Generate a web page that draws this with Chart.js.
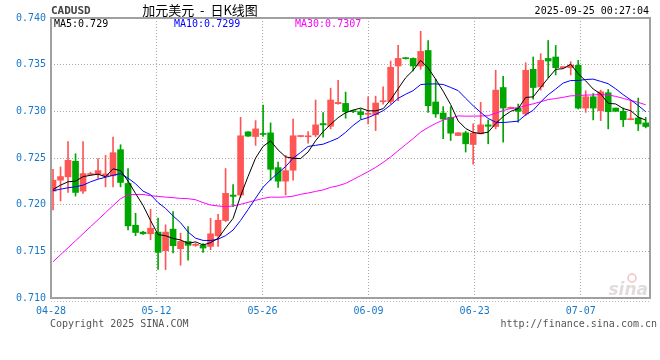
<!DOCTYPE html>
<html>
<head>
<meta charset="utf-8">
<script src="https://cdn.jsdelivr.net/npm/chart.js"></script>
<style>
  html, body { margin: 0; padding: 0; background: #fff; }
  canvas { display: block; }
</style>
</head>
<body>
<canvas id="kChart" width="660" height="360" style="width:660px;height:360px"></canvas>
<script>
// 加元美元 日K线 CADUSD
const openP = [0.72145, 0.72262, 0.72298, 0.72465, 0.72145, 0.72323, 0.72326, 0.72309, 0.72309, 0.72589,
  0.72227, 0.71780, 0.71706, 0.71688, 0.71706, 0.71507, 0.71738, 0.71528, 0.71606, 0.71564,
  0.71564, 0.71553, 0.71667, 0.71830, 0.72103, 0.72103, 0.72780, 0.72730, 0.72762, 0.72769,
  0.72397, 0.72252, 0.72369, 0.72730, 0.72727, 0.72748, 0.72869, 0.72840, 0.73082, 0.73085,
  0.73004, 0.72996, 0.72968, 0.72965, 0.73103, 0.73106, 0.73486, 0.73574, 0.73567, 0.73486,
  0.73652, 0.73100, 0.72982, 0.72936, 0.72741, 0.72770, 0.72645, 0.72759, 0.72855, 0.72837,
  0.73255, 0.73032, 0.73035, 0.72972, 0.73450, 0.73262, 0.73567, 0.73582, 0.73468, 0.73468,
  0.73493, 0.73035, 0.73156, 0.73007, 0.73199, 0.73035, 0.73000, 0.72911, 0.72929, 0.72876];
const highP = [0.72379, 0.72404, 0.72677, 0.72546, 0.72677, 0.72348, 0.72493, 0.72528, 0.72723, 0.72642,
  0.72387, 0.71908, 0.71713, 0.71950, 0.71855, 0.71784, 0.71926, 0.71695, 0.71766, 0.71589,
  0.71582, 0.71855, 0.71897, 0.72387, 0.72216, 0.72936, 0.72784, 0.72901, 0.73067, 0.72876,
  0.72457, 0.72528, 0.72918, 0.72738, 0.72784, 0.73121, 0.72986, 0.73248, 0.73333, 0.73206,
  0.73014, 0.73025, 0.73156, 0.73163, 0.73262, 0.73539, 0.73706, 0.73578, 0.73574, 0.73858,
  0.73759, 0.73344, 0.73050, 0.73050, 0.72773, 0.72787, 0.72865, 0.73096, 0.72908, 0.73440,
  0.73376, 0.73046, 0.73078, 0.73521, 0.73582, 0.73617, 0.73759, 0.73706, 0.73479, 0.73532,
  0.73546, 0.73220, 0.73191, 0.73227, 0.73234, 0.73035, 0.73035, 0.73121, 0.73142, 0.72936];
const lowP = [0.71943, 0.72039, 0.72131, 0.72092, 0.72121, 0.72312, 0.72280, 0.72191, 0.72191, 0.72191,
  0.71730, 0.71667, 0.71681, 0.71624, 0.71305, 0.71305, 0.71482, 0.71351, 0.71404, 0.71553,
  0.71489, 0.71518, 0.71553, 0.71819, 0.71979, 0.72078, 0.72730, 0.72635, 0.72730, 0.72262,
  0.72184, 0.72103, 0.72262, 0.72727, 0.72660, 0.72730, 0.72723, 0.72812, 0.73078, 0.72926,
  0.72986, 0.72918, 0.72865, 0.72794, 0.73078, 0.73078, 0.73113, 0.73560, 0.73433, 0.73450,
  0.72989, 0.72936, 0.72706, 0.72688, 0.72738, 0.72564, 0.72433, 0.72759, 0.72652, 0.72812,
  0.72670, 0.73028, 0.72883, 0.72954, 0.73131, 0.73227, 0.73362, 0.73390, 0.73464, 0.73390,
  0.73025, 0.72989, 0.72908, 0.72901, 0.72812, 0.73000, 0.72837, 0.72908, 0.72794, 0.72823];
const closeP = [0.72262, 0.72301, 0.72475, 0.72131, 0.72333, 0.72333, 0.72365, 0.72330, 0.72557, 0.72238,
  0.71773, 0.71702, 0.71688, 0.71748, 0.71489, 0.71706, 0.71560, 0.71606, 0.71564, 0.71574,
  0.71535, 0.71688, 0.71833, 0.72121, 0.72089, 0.72738, 0.72734, 0.72812, 0.72752, 0.72379,
  0.72252, 0.72365, 0.72738, 0.72734, 0.72734, 0.72855, 0.72855, 0.73121, 0.73096, 0.72996,
  0.72996, 0.72965, 0.72979, 0.73089, 0.73110, 0.73472, 0.73567, 0.73564, 0.73486, 0.73642,
  0.73060, 0.72972, 0.72918, 0.72766, 0.72770, 0.72652, 0.72766, 0.72855, 0.72840, 0.73227,
  0.73035, 0.73043, 0.73000, 0.73440, 0.73255, 0.73546, 0.73539, 0.73468, 0.73475, 0.73496,
  0.73035, 0.73156, 0.73035, 0.73209, 0.72996, 0.73000, 0.72911, 0.72918, 0.72865, 0.72837];

const ma5 = [0.72163, 0.72209, 0.72245, 0.72252, 0.72300, 0.72315, 0.72327, 0.72298, 0.72384, 0.72365,
  0.72253, 0.72120, 0.71992, 0.71830, 0.71680, 0.71667, 0.71638, 0.71622, 0.71585, 0.71602,
  0.71568, 0.71593, 0.71639, 0.71750, 0.71853, 0.72094, 0.72303, 0.72499, 0.72625, 0.72683,
  0.72586, 0.72512, 0.72497, 0.72494, 0.72565, 0.72685, 0.72783, 0.72860, 0.72932, 0.72985,
  0.73013, 0.73035, 0.73006, 0.73005, 0.73028, 0.73123, 0.73243, 0.73360, 0.73440, 0.73546,
  0.73464, 0.73345, 0.73216, 0.73072, 0.72897, 0.72816, 0.72774, 0.72762, 0.72777, 0.72868,
  0.72945, 0.73000, 0.73029, 0.73149, 0.73155, 0.73257, 0.73356, 0.73450, 0.73457, 0.73505,
  0.73403, 0.73326, 0.73239, 0.73186, 0.73086, 0.73079, 0.73030, 0.73007, 0.72938, 0.72906];
const ma10 = [0.72149, 0.72166, 0.72181, 0.72192, 0.72209, 0.72245, 0.72273, 0.72294, 0.72315, 0.72333,
  0.72284, 0.72224, 0.72145, 0.72107, 0.72022, 0.71960, 0.71879, 0.71807, 0.71707, 0.71641,
  0.71617, 0.71616, 0.71630, 0.71668, 0.71728, 0.71831, 0.71948, 0.72069, 0.72188, 0.72268,
  0.72340, 0.72408, 0.72498, 0.72559, 0.72624, 0.72636, 0.72648, 0.72679, 0.72713, 0.72775,
  0.72849, 0.72909, 0.72933, 0.72969, 0.73006, 0.73068, 0.73139, 0.73183, 0.73222, 0.73287,
  0.73293, 0.73294, 0.73288, 0.73256, 0.73222, 0.73140, 0.73060, 0.72989, 0.72924, 0.72883,
  0.72880, 0.72887, 0.72895, 0.72963, 0.73011, 0.73101, 0.73178, 0.73239, 0.73303, 0.73330,
  0.73330, 0.73341, 0.73345, 0.73321, 0.73296, 0.73241, 0.73178, 0.73123, 0.73062, 0.72996];
const ma30 = [0.71388, 0.71463, 0.71538, 0.71613, 0.71689, 0.71764, 0.71839, 0.71914, 0.71990, 0.72064,
  0.72105, 0.72110, 0.72110, 0.72096, 0.72089, 0.72081, 0.72075, 0.72067, 0.72064, 0.72053,
  0.72022, 0.71996, 0.71986, 0.71979, 0.71986, 0.72004, 0.72025, 0.72046, 0.72067, 0.72081,
  0.72080, 0.72082, 0.72091, 0.72111, 0.72125, 0.72142, 0.72158, 0.72185, 0.72203, 0.72228,
  0.72269, 0.72311, 0.72354, 0.72399, 0.72453, 0.72511, 0.72578, 0.72644, 0.72708, 0.72777,
  0.72827, 0.72870, 0.72906, 0.72928, 0.72951, 0.72948, 0.72949, 0.72950, 0.72953, 0.72981,
  0.73008, 0.73030, 0.73039, 0.73062, 0.73080, 0.73103, 0.73126, 0.73137, 0.73150, 0.73166,
  0.73168, 0.73174, 0.73176, 0.73180, 0.73176, 0.73160, 0.73139, 0.73117, 0.73096, 0.73070];

const tickPos = [-0.27, 13.8, 27.93, 42.06, 56.2, 70.33];
const tickLabels = ['04-28', '05-12', '05-26', '06-09', '06-23', '07-07'];
const maLabels = ['MA5:0.729', 'MA10:0.7299', 'MA30:0.7307'];

const UP = '#ff5555';
const DOWN = '#00a600';
const BLUE_TXT = '#1878c8';
const MONO = '"DejaVu Sans Mono", monospace';

const candleColor = closeP.map((c, i) => (c >= openP[i] ? UP : DOWN));
const pts = arr => arr.map((v, i) => ({ x: i, y: v }));

// header, legend, frame, footer
const sinaText = {
  id: 'sinaText',
  beforeDatasetsDraw(chart) {
    const ctx = chart.ctx;
    ctx.save();
    ctx.fillStyle = 'rgba(200,190,190,0.55)';
    ctx.font = 'italic bold 17px "DejaVu Sans"';
    ctx.textAlign = 'right';
    ctx.textBaseline = 'alphabetic';
    ctx.fillText('sina', 648, 295);
    ctx.strokeStyle = 'rgba(230,140,140,0.55)';
    ctx.lineWidth = 1.5;
    ctx.beginPath();
    ctx.arc(632, 278, 4, 0, Math.PI * 2);
    ctx.stroke();
    ctx.restore();
  },
  afterDraw(chart) {
    const { ctx, chartArea: a } = chart;
    ctx.save();
    ctx.strokeStyle = '#a0a0a0';
    ctx.lineWidth = 2;
    ctx.strokeRect(a.left, a.top, a.right - a.left, a.bottom - a.top);

    ctx.strokeStyle = '#c0c0c0';
    ctx.lineWidth = 1;
    ctx.setLineDash([1, 2]);
    ctx.beginPath();
    ctx.moveTo(a.left, a.bottom + 3.5);
    ctx.lineTo(a.right, a.bottom + 3.5);
    ctx.stroke();
    ctx.setLineDash([]);

    ctx.textBaseline = 'middle';
    ctx.textAlign = 'left';
    ctx.fillStyle = '#444';
    ctx.font = 'bold 11px ' + MONO;
    ctx.fillText('CADUSD', 51, 11);

    ctx.fillStyle = '#000';
    ctx.font = '13px "Noto Sans CJK SC"';
    ctx.textAlign = 'center';
    ctx.fillText('加元美元  -  日K线图', 200, 10);

    ctx.font = '10px ' + MONO;
    ctx.textAlign = 'right';
    ctx.fillText('2025-09-25 00:27:04', 649, 11);

    ctx.textAlign = 'left';
    const maColors = ['#000000', '#0000ff', '#ff00ff'];
    const maX = [54, 174, 295];
    maLabels.forEach((t, k) => {
      ctx.fillStyle = maColors[k];
      ctx.fillText(t, maX[k], 24);
    });

    ctx.fillStyle = '#555';
    ctx.fillText('Copyright 2025 SINA.COM', 50, 324);
    ctx.textAlign = 'right';
    ctx.fillText('http://finance.sina.com.cn', 657, 324);
    ctx.restore();
  }
};

new Chart(document.getElementById('kChart'), {
  type: 'bar',
  data: {
    datasets: [
      { type: 'line', label: 'MA5', data: pts(ma5), borderColor: '#000000', borderWidth: 1, pointRadius: 0, order: 0 },
      { type: 'line', label: 'MA10', data: pts(ma10), borderColor: '#0000ff', borderWidth: 1, pointRadius: 0, order: 1 },
      { type: 'line', label: 'MA30', data: pts(ma30), borderColor: '#ff00ff', borderWidth: 1, pointRadius: 0, order: 2 },
      {
        label: 'body',
        data: openP.map((o, i) => ({ x: i, y: [o, closeP[i]] })),
        backgroundColor: candleColor,
        barThickness: 6,
        minBarLength: 1,
        grouped: false,
        order: 3
      },
      {
        label: 'wick',
        data: lowP.map((l, i) => ({ x: i, y: [l, highP[i]] })),
        backgroundColor: candleColor,
        barThickness: 1,
        grouped: false,
        order: 4
      }
    ]
  },
  options: {
    responsive: false,
    animation: false,
    devicePixelRatio: 1,
    layout: { padding: { top: 18, right: 10, left: 0, bottom: 0 } },
    plugins: {
      legend: { display: false },
      tooltip: { enabled: false }
    },
    scales: {
      x: {
        type: 'linear',
        min: -0.27,
        max: 79.57,
        bounds: 'data',
        offset: false,
        afterBuildTicks: axis => { axis.ticks = tickPos.map(v => ({ value: v })); },
        afterFit: axis => { axis.height = 62; },
        grid: { color: '#a8a8a8', drawTicks: false, offset: false },
        border: { display: false, dash: [1, 2] },
        ticks: {
          autoSkip: false,
          maxRotation: 0,
          padding: 7,
          color: BLUE_TXT,
          font: { family: MONO, size: 10 },
          callback: (v, idx) => tickLabels[idx]
        }
      },
      y: {
        min: 0.71,
        max: 0.74,
        beginAtZero: false,
        afterFit: axis => { axis.width = 51; },
        grid: { color: '#a8a8a8', drawTicks: false },
        border: { display: false, dash: [1, 2] },
        ticks: {
          stepSize: 0.005,
          padding: 5,
          color: BLUE_TXT,
          font: { family: MONO, size: 10 },
          callback: v => v.toFixed(3)
        }
      }
    }
  },
  plugins: [sinaText]
});
</script>
</body>
</html>
